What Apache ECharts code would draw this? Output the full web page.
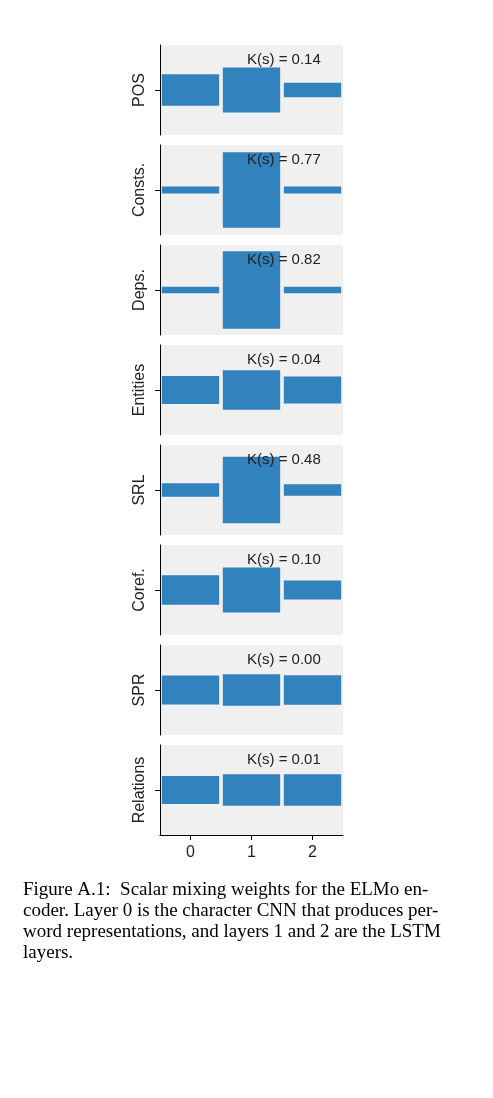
<!DOCTYPE html>
<html><head><meta charset="utf-8">
<script src="https://cdn.jsdelivr.net/npm/echarts@6/dist/echarts.min.js"></script>
<style>body{margin:0;background:#fff}#view{width:493px;height:1098px}</style>
</head><body><div id="view"></div>
<script>
var tasks = ['POS', 'Consts.', 'Deps.', 'Entities', 'SRL', 'Coref.', 'SPR', 'Relations'];
var layers = ['0', '1', '2'];
var kScores = ['0.14', '0.77', '0.82', '0.04', '0.48', '0.10', '0.00', '0.01'];
var weights = [
    [0.35, 0.50, 0.16],
    [0.08, 0.84, 0.08],
    [0.07, 0.86, 0.07],
    [0.31, 0.44, 0.30],
    [0.15, 0.74, 0.13],
    [0.33, 0.50, 0.21],
    [0.32, 0.35, 0.33],
    [0.31, 0.35, 0.35]
];

var myChart = echarts.init(document.getElementById('view'));
var grids = [], xAxes = [], yAxes = [], series = [], graphics = [];

tasks.forEach(function (t, i) {
    var top = 45 + i * 100;
    var last = i === tasks.length - 1;
    grids.push({left: 160, width: 183, top: top, height: 90, show: true,
        backgroundColor: '#f0f0f0', borderWidth: 0});
    xAxes.push({type: 'category', gridIndex: i, data: layers,
        axisLine: {show: last, onZero: false, lineStyle: {color: '#000'}},
        axisTick: {show: last, alignWithLabel: true, lineStyle: {color: '#000'}},
        axisLabel: {show: last, color: '#222', fontSize: 16, fontFamily: 'Liberation Sans', margin: 10}});
    yAxes.push({type: 'value', gridIndex: i, min: -0.5, max: 0.5, interval: 0.5,
        name: t, nameLocation: 'middle', nameRotate: 90, nameGap: 12,
        nameTextStyle: {color: '#222', fontSize: 16, fontFamily: 'Liberation Sans'},
        axisLine: {show: true, lineStyle: {color: '#000'}},
        axisTick: {show: true, customValues: [0], length: 5, lineStyle: {color: '#000'}},
        axisLabel: {show: false},
        splitLine: {show: false}});
    var w = weights[i];
    [1, -1].forEach(function (s) {
        series.push({type: 'bar', xAxisIndex: i, yAxisIndex: i, stack: 'w' + i,
            barWidth: '94%', itemStyle: {color: '#3182bd'}, silent: true,
            data: w.map(function (v) { return s * v / 2; })});
    });
    graphics.push({type: 'text', left: 247, top: top + 7, z: 100,
        style: {text: 'K(s) = ' + kScores[i], fill: '#222', fontSize: 15, fontFamily: 'Liberation Sans'}});
});

graphics.push({type: 'text', left: 23, top: 880, z: 100,
    style: {text: 'Figure A.1:  Scalar mixing weights for the ELMo en-\ncoder. Layer 0 is the character CNN that produces per-\nword representations, and layers 1 and 2 are the LSTM\nlayers.',
        fill: '#000', fontSize: 19, lineHeight: 21, fontFamily: 'Liberation Serif'}});

option = {
    animation: false,
    grid: grids,
    xAxis: xAxes,
    yAxis: yAxes,
    series: series,
    graphic: graphics
};

myChart.setOption(option);
</script>
</body></html>
